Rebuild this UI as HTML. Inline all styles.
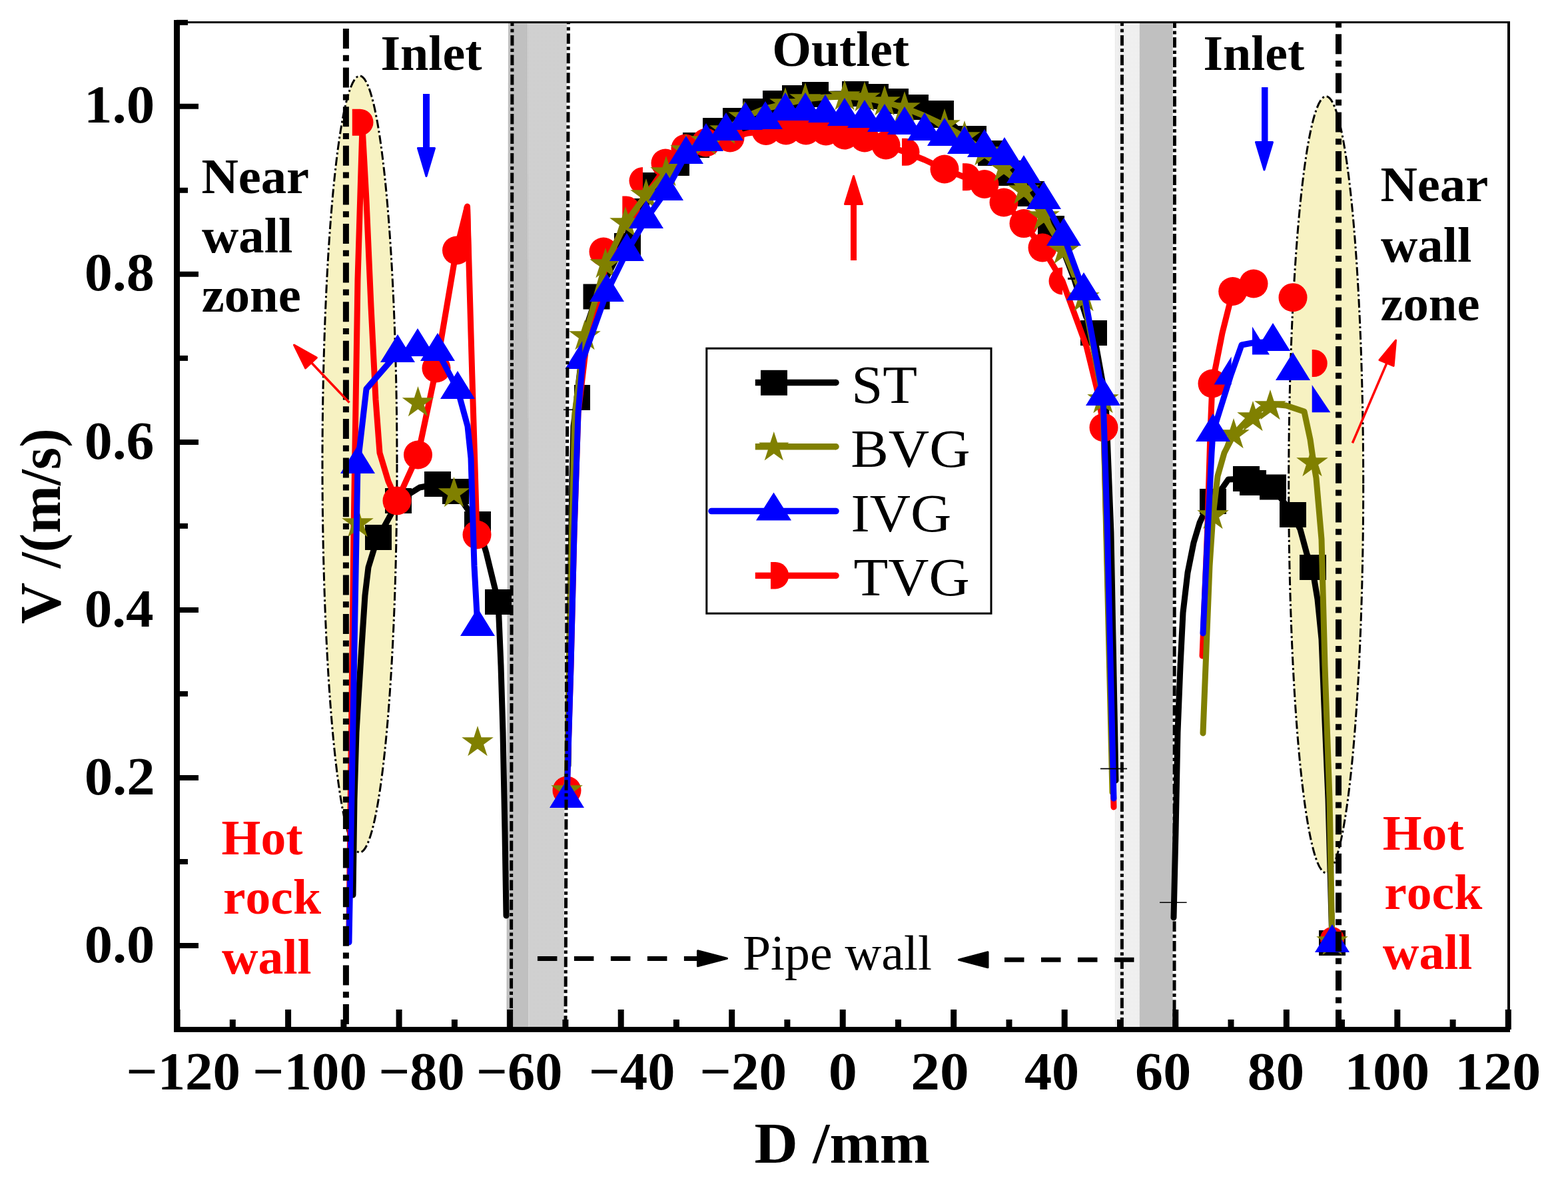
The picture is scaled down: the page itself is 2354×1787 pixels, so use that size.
<!DOCTYPE html><html><head><meta charset="utf-8"><title>V vs D</title>
<style>html,body{margin:0;padding:0;background:#fff;overflow:hidden}svg{display:block}text{font-family:"Liberation Serif","Times New Roman",serif;font-kerning:none}</style></head><body>
<svg width="2354" height="1787" viewBox="0 0 2354 1787">
<defs><clipPath id="pa"><rect x="265" y="35" width="2000" height="1508"/></clipPath><pattern id="stipA" width="2" height="2" patternUnits="userSpaceOnUse"><rect width="2" height="2" fill="#c0c0c0"/><rect width="1" height="1" fill="#fff"/></pattern><pattern id="stipB" width="2" height="2" patternUnits="userSpaceOnUse"><rect width="2" height="2" fill="#fff"/><rect width="1" height="1" fill="#c0c0c0"/></pattern></defs>
<rect width="2354" height="1787" fill="#fff"/>
<g clip-path="url(#pa)">
<ellipse cx="540" cy="697" rx="56" ry="583" fill="#f7f2c2" stroke="#000" stroke-width="3" stroke-dasharray="13 4 3 4"/>
<ellipse cx="1990.7" cy="727.7" rx="56" ry="583" fill="#f7f2c2" stroke="#000" stroke-width="3" stroke-dasharray="13 4 3 4"/>
<polygon points="763,35 792.6,35 793.4,1542 760.4,1542" fill="#c0c0c0"/>
<polygon points="792.6,35 851.2,35 846.3,1542 793.4,1542" fill="url(#stipA)"/>
<rect x="1673.9" y="35" width="37.1" height="1507" fill="url(#stipB)"/>
<rect x="1711" y="35" width="49.6" height="1507" fill="#c0c0c0"/>
</g>
<g clip-path="url(#pa)">
<polyline points="760,1375 758,1250 755,1100 752,1000 748,904 730,830 717,787 684,738 657,727 630,732 598,752 568,807 561,826 553,852 548,894 543,970 538,1050 535,1100 532,1200 530,1344" fill="none" stroke="#000000" stroke-width="9" stroke-linejoin="round" stroke-linecap="round"/>
<rect x="548" y="788" width="40" height="38" fill="#000000"/>
<rect x="578" y="733" width="40" height="38" fill="#000000"/>
<rect x="637" y="708" width="40" height="38" fill="#000000"/>
<rect x="664" y="719" width="40" height="38" fill="#000000"/>
<rect x="697" y="768" width="40" height="38" fill="#000000"/>
<rect x="728" y="885" width="40" height="38" fill="#000000"/>
<polyline points="895.5,445.5 935,369 955,317 985,278 1015,245 1045,218 1075,196 1105,181 1135,167 1165,155 1194,147 1224,142 1254,141 1284,141 1314,145 1344,152 1374,161 1404,173 1412,170 1452,208 1461,208 1488,230 1518,260 1548,291 1578,343 1598,381 1613,420 1630,474 1642,500" fill="none" stroke="#000000" stroke-width="9" stroke-linejoin="round" stroke-linecap="round"/>
<polyline points="866,597 877,505 884,480 895.5,445.5" fill="none" stroke="#000000" stroke-width="9" stroke-linejoin="round" stroke-linecap="round"/>
<polyline points="873.5,597 866,600 861,640 859,720 856,900 853,1150" fill="none" stroke="#000000" stroke-width="9" stroke-linejoin="round" stroke-linecap="round"/>
<polyline points="1642,500 1660,600 1668,800 1675,1172" fill="none" stroke="#000000" stroke-width="9" stroke-linejoin="round" stroke-linecap="round"/>
<rect x="875.5" y="426.5" width="40" height="38" fill="#000000"/>
<rect x="922" y="350" width="40" height="38" fill="#000000"/>
<rect x="935" y="298" width="40" height="38" fill="#000000"/>
<rect x="965" y="259" width="40" height="38" fill="#000000"/>
<rect x="995" y="226" width="40" height="38" fill="#000000"/>
<rect x="1025" y="199" width="40" height="38" fill="#000000"/>
<rect x="1055" y="177" width="40" height="38" fill="#000000"/>
<rect x="1085" y="162" width="40" height="38" fill="#000000"/>
<rect x="1115" y="148" width="40" height="38" fill="#000000"/>
<rect x="1145" y="136" width="40" height="38" fill="#000000"/>
<rect x="1174" y="128" width="40" height="38" fill="#000000"/>
<rect x="1204" y="123" width="40" height="38" fill="#000000"/>
<rect x="1264" y="122" width="40" height="38" fill="#000000"/>
<rect x="1294" y="126" width="40" height="38" fill="#000000"/>
<rect x="1324" y="133" width="40" height="38" fill="#000000"/>
<rect x="1354" y="142" width="40" height="38" fill="#000000"/>
<rect x="1384" y="154" width="40" height="38" fill="#000000"/>
<rect x="1392" y="151" width="40" height="38" fill="#000000"/>
<rect x="1432" y="189" width="40" height="38" fill="#000000"/>
<rect x="1441" y="189" width="40" height="38" fill="#000000"/>
<rect x="1468" y="211" width="40" height="38" fill="#000000"/>
<rect x="1498" y="241" width="40" height="38" fill="#000000"/>
<rect x="1528" y="272" width="40" height="38" fill="#000000"/>
<rect x="1558" y="324" width="40" height="38" fill="#000000"/>
<rect x="1622" y="481" width="40" height="38" fill="#000000"/>
<rect x="862" y="578" width="24" height="38" fill="#000000"/>
<polyline points="1762,1378 1765,1250 1768,1100 1772,1000 1776,920 1783,860 1792,815 1801,785 1808,770 1821,753 1844,720 1871,719 1881,725 1911,731.5 1941,773 1952,795 1962,832 1970,852 1978,900 1984,960 1988,1060 1994,1200 2000,1416" fill="none" stroke="#000000" stroke-width="9" stroke-linejoin="round" stroke-linecap="round"/>
<rect x="1801" y="734" width="40" height="38" fill="#000000"/>
<rect x="1851" y="700" width="40" height="38" fill="#000000"/>
<rect x="1861" y="706" width="40" height="38" fill="#000000"/>
<rect x="1891" y="712.5" width="40" height="38" fill="#000000"/>
<rect x="1921" y="754" width="40" height="38" fill="#000000"/>
<rect x="1951" y="833" width="40" height="38" fill="#000000"/>
<rect x="1980" y="1397" width="40" height="38" fill="#000000"/>
<polyline points="524,1390 531,800 537,420 544,190 550,300 557,460 564,600 570,680 583,723 596,752 627.5,683 655,553 685,376 701.5,310 704,396 708.7,560 713,700 716,803" fill="none" stroke="#ff0000" stroke-width="9" stroke-linejoin="round" stroke-linecap="round"/>
<polygon points="697,309 706,309 708,398 692,384 688,360" fill="#ff0000"/>
<path d="M528.8,163.7 H540.5 A20,20 0 0 1 540.5,203.7 H528.8 Z" fill="#ff0000"/>
<circle cx="596" cy="752" r="21.5" fill="#ff0000"/>
<circle cx="627.5" cy="683" r="21.5" fill="#ff0000"/>
<circle cx="655" cy="553" r="21.5" fill="#ff0000"/>
<circle cx="685.5" cy="376" r="21.5" fill="#ff0000"/>
<circle cx="716" cy="803" r="21.5" fill="#ff0000"/>
<polyline points="851,1187 857,1000 862,800 868,620 880,520 897,468 909,397 939,335 970,293 999,252 1029,223 1060,214 1096,207 1123,200 1150,196.5 1180,196 1210,196 1240,197 1268,203 1298,207 1330,218 1358,228 1388,240 1418,254 1448,266 1478,276.5 1507,304 1537,335.6 1565,372 1595,422 1631,520 1647,585 1657,642 1672,1212" fill="none" stroke="#ff0000" stroke-width="9" stroke-linejoin="round" stroke-linecap="round"/>
<circle cx="851" cy="1187" r="21.5" fill="#ff0000"/>
<circle cx="906" cy="378" r="21.5" fill="#ff0000"/>
<circle cx="999" cy="245" r="21.5" fill="#ff0000"/>
<circle cx="1029" cy="223" r="21.5" fill="#ff0000"/>
<circle cx="1060" cy="214" r="21.5" fill="#ff0000"/>
<circle cx="1096" cy="207" r="21.5" fill="#ff0000"/>
<circle cx="1150" cy="196.5" r="21.5" fill="#ff0000"/>
<circle cx="1180" cy="196" r="21.5" fill="#ff0000"/>
<circle cx="1210" cy="196" r="21.5" fill="#ff0000"/>
<circle cx="1240" cy="197" r="21.5" fill="#ff0000"/>
<circle cx="1268" cy="203" r="21.5" fill="#ff0000"/>
<circle cx="1298" cy="207" r="21.5" fill="#ff0000"/>
<circle cx="1330" cy="218" r="21.5" fill="#ff0000"/>
<circle cx="1418" cy="254" r="21.5" fill="#ff0000"/>
<circle cx="1478" cy="276.5" r="21.5" fill="#ff0000"/>
<circle cx="1507" cy="304" r="21.5" fill="#ff0000"/>
<circle cx="1537" cy="335.6" r="21.5" fill="#ff0000"/>
<circle cx="1565" cy="372" r="21.5" fill="#ff0000"/>
<circle cx="1657" cy="642" r="21.5" fill="#ff0000"/>
<path d="M934.3,294.5 H940.3 A20.5,20.5 0 0 1 940.3,335.5 H934.3 Z" fill="#ff0000"/>
<path d="M965,251 A20.5,20.5 0 0 0 965,292 Z" fill="#ff0000"/>
<path d="M1354,207.8 H1360 A20.5,20.5 0 0 1 1360,248.8 H1354 Z" fill="#ff0000"/>
<path d="M1445,245.3 H1451 A20.5,20.5 0 0 1 1451,286.3 H1445 Z" fill="#ff0000"/>
<path d="M1595,401.5 A20.5,20.5 0 0 0 1595,442.5 Z" fill="#ff0000"/>
<polyline points="1805,985 1812.5,800 1817,650 1820,576 1835,500 1850.7,437.5 1882,426" fill="none" stroke="#ff0000" stroke-width="9" stroke-linejoin="round" stroke-linecap="round"/>
<circle cx="1820" cy="576" r="21.5" fill="#ff0000"/>
<circle cx="1850.7" cy="437.5" r="21.5" fill="#ff0000"/>
<circle cx="1882" cy="426" r="21.5" fill="#ff0000"/>
<circle cx="1941" cy="446.7" r="21.5" fill="#ff0000"/>
<path d="M1969.7,525 H1972.2 A20.5,20.5 0 0 1 1972.2,566 H1969.7 Z" fill="#ff0000"/>
<circle cx="2000" cy="1410" r="18" fill="#ff0000"/>
<polygon points="537,761 542.6,778.3 560.8,778.3 546.1,789 551.7,806.2 537,795.5 522.3,806.2 527.9,789 513.2,778.3 531.4,778.3" fill="#808000"/>
<polygon points="627.5,580 633.1,597.3 651.3,597.3 636.6,608 642.2,625.2 627.5,614.5 612.8,625.2 618.4,608 603.7,597.3 621.9,597.3" fill="#808000"/>
<polygon points="681.5,716 687.1,733.3 705.3,733.3 690.6,744 696.2,761.2 681.5,750.5 666.8,761.2 672.4,744 657.7,733.3 675.9,733.3" fill="#808000"/>
<polygon points="717,1090 722.6,1107.3 740.8,1107.3 726.1,1118 731.7,1135.2 717,1124.5 702.3,1135.2 707.9,1118 693.2,1107.3 711.4,1107.3" fill="#808000"/>
<polyline points="851,1183 856,900 863,620 878,505 909,397 939,335 970,293 1000,259 1030,226 1060,212 1089,196 1117,176 1149,163 1179,156 1209,149 1238,146 1268,145 1298,147 1328,153 1358,162 1388,174 1418,188 1448,206 1478,228 1507,252 1537,286 1567,325 1597,376 1627,447 1656,600 1670,1190" fill="none" stroke="#808000" stroke-width="9" stroke-linejoin="round" stroke-linecap="round"/>
<polygon points="878,480 883.6,497.3 901.8,497.3 887.1,508 892.7,525.2 878,514.5 863.3,525.2 868.9,508 854.2,497.3 872.4,497.3" fill="#808000"/>
<polygon points="909,372 914.6,389.3 932.8,389.3 918.1,400 923.7,417.2 909,406.6 894.3,417.2 899.9,400 885.2,389.3 903.4,389.3" fill="#808000"/>
<polygon points="939,310 944.6,327.3 962.8,327.3 948.1,338 953.7,355.2 939,344.6 924.3,355.2 929.9,338 915.2,327.3 933.4,327.3" fill="#808000"/>
<polygon points="970,268 975.6,285.3 993.8,285.3 979.1,296 984.7,313.2 970,302.6 955.3,313.2 960.9,296 946.2,285.3 964.4,285.3" fill="#808000"/>
<polygon points="1000,234 1005.6,251.3 1023.8,251.3 1009.1,262 1014.7,279.2 1000,268.6 985.3,279.2 990.9,262 976.2,251.3 994.4,251.3" fill="#808000"/>
<polygon points="1030,201 1035.6,218.3 1053.8,218.3 1039.1,229 1044.7,246.2 1030,235.6 1015.3,246.2 1020.9,229 1006.2,218.3 1024.4,218.3" fill="#808000"/>
<polygon points="1060,187 1065.6,204.3 1083.8,204.3 1069.1,215 1074.7,232.2 1060,221.6 1045.3,232.2 1050.9,215 1036.2,204.3 1054.4,204.3" fill="#808000"/>
<polygon points="1089,171 1094.6,188.3 1112.8,188.3 1098.1,199 1103.7,216.2 1089,205.6 1074.3,216.2 1079.9,199 1065.2,188.3 1083.4,188.3" fill="#808000"/>
<polygon points="1117,151 1122.6,168.3 1140.8,168.3 1126.1,179 1131.7,196.2 1117,185.6 1102.3,196.2 1107.9,179 1093.2,168.3 1111.4,168.3" fill="#808000"/>
<polygon points="1179,131 1184.6,148.3 1202.8,148.3 1188.1,159 1193.7,176.2 1179,165.6 1164.3,176.2 1169.9,159 1155.2,148.3 1173.4,148.3" fill="#808000"/>
<polygon points="1209,124 1214.6,141.3 1232.8,141.3 1218.1,152 1223.7,169.2 1209,158.6 1194.3,169.2 1199.9,152 1185.2,141.3 1203.4,141.3" fill="#808000"/>
<polygon points="1268,120 1273.6,137.3 1291.8,137.3 1277.1,148 1282.7,165.2 1268,154.6 1253.3,165.2 1258.9,148 1244.2,137.3 1262.4,137.3" fill="#808000"/>
<polygon points="1298,122 1303.6,139.3 1321.8,139.3 1307.1,150 1312.7,167.2 1298,156.6 1283.3,167.2 1288.9,150 1274.2,139.3 1292.4,139.3" fill="#808000"/>
<polygon points="1328,128 1333.6,145.3 1351.8,145.3 1337.1,156 1342.7,173.2 1328,162.6 1313.3,173.2 1318.9,156 1304.2,145.3 1322.4,145.3" fill="#808000"/>
<polygon points="1358,137 1363.6,154.3 1381.8,154.3 1367.1,165 1372.7,182.2 1358,171.6 1343.3,182.2 1348.9,165 1334.2,154.3 1352.4,154.3" fill="#808000"/>
<polygon points="1418,163 1423.6,180.3 1441.8,180.3 1427.1,191 1432.7,208.2 1418,197.6 1403.3,208.2 1408.9,191 1394.2,180.3 1412.4,180.3" fill="#808000"/>
<polygon points="1448,181 1453.6,198.3 1471.8,198.3 1457.1,209 1462.7,226.2 1448,215.6 1433.3,226.2 1438.9,209 1424.2,198.3 1442.4,198.3" fill="#808000"/>
<polygon points="1478,203 1483.6,220.3 1501.8,220.3 1487.1,231 1492.7,248.2 1478,237.6 1463.3,248.2 1468.9,231 1454.2,220.3 1472.4,220.3" fill="#808000"/>
<polygon points="1507,227 1512.6,244.3 1530.8,244.3 1516.1,255 1521.7,272.2 1507,261.6 1492.3,272.2 1497.9,255 1483.2,244.3 1501.4,244.3" fill="#808000"/>
<polygon points="1537,261 1542.6,278.3 1560.8,278.3 1546.1,289 1551.7,306.2 1537,295.6 1522.3,306.2 1527.9,289 1513.2,278.3 1531.4,278.3" fill="#808000"/>
<polygon points="1567,300 1572.6,317.3 1590.8,317.3 1576.1,328 1581.7,345.2 1567,334.6 1552.3,345.2 1557.9,328 1543.2,317.3 1561.4,317.3" fill="#808000"/>
<polygon points="1597,351 1602.6,368.3 1620.8,368.3 1606.1,379 1611.7,396.2 1597,385.6 1582.3,396.2 1587.9,379 1573.2,368.3 1591.4,368.3" fill="#808000"/>
<polygon points="1627,422 1632.6,439.3 1650.8,439.3 1636.1,450 1641.7,467.2 1627,456.6 1612.3,467.2 1617.9,450 1603.2,439.3 1621.4,439.3" fill="#808000"/>
<polygon points="1656,575 1661.6,592.3 1679.8,592.3 1665.1,603 1670.7,620.2 1656,609.5 1641.3,620.2 1646.9,603 1632.2,592.3 1650.4,592.3" fill="#808000"/>
<polygon points="851,1162 856.6,1179.3 874.8,1179.3 860.1,1190 865.7,1207.2 851,1196.5 836.3,1207.2 841.9,1190 827.2,1179.3 845.4,1179.3" fill="#808000"/>
<polyline points="1806,1101 1812,950 1816,850 1821,774 1828,715 1838,680 1852,653 1875,628 1893,614 1912,607 1931,609 1958,618 1967,660 1972,695 1976,718 1984,810 1989,1000 1996,1200 2000,1416" fill="none" stroke="#808000" stroke-width="9" stroke-linejoin="round" stroke-linecap="round"/>
<polygon points="1821,749 1826.6,766.3 1844.8,766.3 1830.1,777 1835.7,794.2 1821,783.5 1806.3,794.2 1811.9,777 1797.2,766.3 1815.4,766.3" fill="#808000"/>
<polygon points="1852,628 1857.6,645.3 1875.8,645.3 1861.1,656 1866.7,673.2 1852,662.5 1837.3,673.2 1842.9,656 1828.2,645.3 1846.4,645.3" fill="#808000"/>
<polygon points="1881,602 1886.6,619.3 1904.8,619.3 1890.1,630 1895.7,647.2 1881,636.5 1866.3,647.2 1871.9,630 1857.2,619.3 1875.4,619.3" fill="#808000"/>
<polygon points="1907,585 1912.6,602.3 1930.8,602.3 1916.1,613 1921.7,630.2 1907,619.5 1892.3,630.2 1897.9,613 1883.2,602.3 1901.4,602.3" fill="#808000"/>
<polygon points="1970,670 1975.6,687.3 1993.8,687.3 1979.1,698 1984.7,715.2 1970,704.5 1955.3,715.2 1960.9,698 1946.2,687.3 1964.4,687.3" fill="#808000"/>
<polygon points="2000,1389 2005.6,1406.3 2023.8,1406.3 2009.1,1417 2014.7,1434.2 2000,1423.5 1985.3,1434.2 1990.9,1417 1976.2,1406.3 1994.4,1406.3" fill="#808000"/>
<polyline points="524,1415 537,697 550,584 597,530 627,521 657,528 687,585 702,640 707,688 712,850 717,941" fill="none" stroke="#0000ff" stroke-width="9" stroke-linejoin="round" stroke-linecap="round"/>
<polygon points="537,669 511,711 563,711" fill="#0000ff"/>
<polygon points="597,502 571,544 623,544" fill="#0000ff"/>
<polygon points="627,493 601,535 653,535" fill="#0000ff"/>
<polygon points="657,500 631,542 683,542" fill="#0000ff"/>
<polygon points="687,557 661,599 713,599" fill="#0000ff"/>
<polygon points="717,913 691,955 743,955" fill="#0000ff"/>
<polyline points="851,1199 857,1000 862,800 868,620 875,540 911,439 941,378 970,329 1000,287 1030,232 1060,213 1090,197 1119,181 1149,180 1179,167 1209,167 1239,170 1268,175 1298,178 1328,184 1358,188 1388,197 1418,205 1448,217 1478,222 1508,234 1537,261 1567,300 1597,355 1627,437 1656,595 1662,780 1672,1199" fill="none" stroke="#0000ff" stroke-width="9" stroke-linejoin="round" stroke-linecap="round"/>
<polygon points="911,411 885,453 937,453" fill="#0000ff"/>
<polygon points="941,350 915,392 967,392" fill="#0000ff"/>
<polygon points="970,301 944,343 996,343" fill="#0000ff"/>
<polygon points="1000,259 974,301 1026,301" fill="#0000ff"/>
<polygon points="1030,204 1004,246 1056,246" fill="#0000ff"/>
<polygon points="1060,185 1034,227 1086,227" fill="#0000ff"/>
<polygon points="1090,169 1064,211 1116,211" fill="#0000ff"/>
<polygon points="1119,153 1093,195 1145,195" fill="#0000ff"/>
<polygon points="1149,152 1123,194 1175,194" fill="#0000ff"/>
<polygon points="1179,139 1153,181 1205,181" fill="#0000ff"/>
<polygon points="1209,139 1183,181 1235,181" fill="#0000ff"/>
<polygon points="1239,142 1213,184 1265,184" fill="#0000ff"/>
<polygon points="1268,147 1242,189 1294,189" fill="#0000ff"/>
<polygon points="1298,150 1272,192 1324,192" fill="#0000ff"/>
<polygon points="1328,156 1302,198 1354,198" fill="#0000ff"/>
<polygon points="1358,160 1332,202 1384,202" fill="#0000ff"/>
<polygon points="1388,169 1362,211 1414,211" fill="#0000ff"/>
<polygon points="1418,177 1392,219 1444,219" fill="#0000ff"/>
<polygon points="1448,189 1422,231 1474,231" fill="#0000ff"/>
<polygon points="1478,194 1452,236 1504,236" fill="#0000ff"/>
<polygon points="1508,206 1482,248 1534,248" fill="#0000ff"/>
<polygon points="1537,233 1511,275 1563,275" fill="#0000ff"/>
<polygon points="1567,272 1541,314 1593,314" fill="#0000ff"/>
<polygon points="1597,327 1571,369 1623,369" fill="#0000ff"/>
<polygon points="1627,409 1601,451 1653,451" fill="#0000ff"/>
<polygon points="1656,567 1630,609 1682,609" fill="#0000ff"/>
<polygon points="874.3,512 874.3,554 848.3,554" fill="#0000ff"/>
<polygon points="851,1171 825,1213 877,1213" fill="#0000ff"/>
<polyline points="1806,951 1813,800 1819,680 1821,649 1848,563 1864,518 1880,515 1911,513" fill="none" stroke="#0000ff" stroke-width="9" stroke-linejoin="round" stroke-linecap="round"/>
<polygon points="1821,621 1795,663 1847,663" fill="#0000ff"/>
<polygon points="1911,485 1885,527 1937,527" fill="#0000ff"/>
<polygon points="1941,529 1915,571 1967,571" fill="#0000ff"/>
<polygon points="1848.6,535.4 1848.6,577.4 1822.6,577.4" fill="#0000ff"/>
<polygon points="1880,490.6 1880,532.6 1906,532.6" fill="#0000ff"/>
<polygon points="1969.7,578 1969.7,619.2 1997.3,619.2" fill="#0000ff"/>
<polygon points="2000,1388 1974,1430 2026,1430" fill="#0000ff"/>
</g>
<line x1="1652" y1="1154.4" x2="1692" y2="1154.4" stroke="#000" stroke-width="1.6"/>
<line x1="1741" y1="1355.2" x2="1781.6" y2="1355.2" stroke="#000" stroke-width="1.6"/>
<line x1="846" y1="615.3" x2="860" y2="615.3" stroke="#000" stroke-width="1.6"/>
<line x1="1603" y1="418.4" x2="1614" y2="418.4" stroke="#000" stroke-width="3"/>
<g clip-path="url(#pa)">
<line x1="769" y1="-6" x2="767.5" y2="1546" stroke="#000" stroke-width="5" stroke-dasharray="15.5 4.5 5 4.5" stroke-dashoffset="0"/>
<line x1="853.5" y1="-8.8" x2="849" y2="1546" stroke="#000" stroke-width="5" stroke-dasharray="15.5 4.5 5 4.5" stroke-dashoffset="0"/>
<line x1="1684.5" y1="-5.9" x2="1684.4" y2="1546" stroke="#000" stroke-width="5" stroke-dasharray="15.5 4.5 5 4.5" stroke-dashoffset="0"/>
<line x1="1763.5" y1="-3" x2="1763" y2="1546" stroke="#000" stroke-width="5" stroke-dasharray="15.5 4.5 5 4.5" stroke-dashoffset="0"/>
<line x1="519.4" y1="-15.6" x2="519.4" y2="1546" stroke="#000" stroke-width="9" stroke-dasharray="30 9.8 9 9.8" stroke-dashoffset="0"/>
<line x1="2009.5" y1="-7.4" x2="2009.5" y2="1546" stroke="#000" stroke-width="9" stroke-dasharray="30 9.8 9 9.8" stroke-dashoffset="0"/>
</g>
<rect x="265" y="33.5" width="2000" height="1" fill="none"/>
<line x1="261" y1="33.4" x2="2267" y2="33.4" stroke="#000" stroke-width="3"/>
<line x1="2265" y1="32" x2="2265" y2="1550" stroke="#000" stroke-width="4"/>
<line x1="265.5" y1="30" x2="265.5" y2="1550" stroke="#000" stroke-width="9"/>
<line x1="261" y1="1546" x2="2267" y2="1546" stroke="#000" stroke-width="8"/>
<line x1="266.1" y1="1516" x2="266.1" y2="1546" stroke="#000" stroke-width="9"/>
<line x1="349.3" y1="1531" x2="349.3" y2="1546" stroke="#000" stroke-width="9"/>
<line x1="432.6" y1="1516" x2="432.6" y2="1546" stroke="#000" stroke-width="9"/>
<line x1="515.9" y1="1531" x2="515.9" y2="1546" stroke="#000" stroke-width="9"/>
<line x1="599.1" y1="1516" x2="599.1" y2="1546" stroke="#000" stroke-width="9"/>
<line x1="682.4" y1="1531" x2="682.4" y2="1546" stroke="#000" stroke-width="9"/>
<line x1="765.6" y1="1516" x2="765.6" y2="1546" stroke="#000" stroke-width="9"/>
<line x1="848.9" y1="1531" x2="848.9" y2="1546" stroke="#000" stroke-width="9"/>
<line x1="932.2" y1="1516" x2="932.2" y2="1546" stroke="#000" stroke-width="9"/>
<line x1="1015.4" y1="1531" x2="1015.4" y2="1546" stroke="#000" stroke-width="9"/>
<line x1="1098.7" y1="1516" x2="1098.7" y2="1546" stroke="#000" stroke-width="9"/>
<line x1="1181.9" y1="1531" x2="1181.9" y2="1546" stroke="#000" stroke-width="9"/>
<line x1="1265.2" y1="1516" x2="1265.2" y2="1546" stroke="#000" stroke-width="9"/>
<line x1="1348.5" y1="1531" x2="1348.5" y2="1546" stroke="#000" stroke-width="9"/>
<line x1="1431.7" y1="1516" x2="1431.7" y2="1546" stroke="#000" stroke-width="9"/>
<line x1="1515" y1="1531" x2="1515" y2="1546" stroke="#000" stroke-width="9"/>
<line x1="1598.2" y1="1516" x2="1598.2" y2="1546" stroke="#000" stroke-width="9"/>
<line x1="1681.5" y1="1531" x2="1681.5" y2="1546" stroke="#000" stroke-width="9"/>
<line x1="1764.8" y1="1516" x2="1764.8" y2="1546" stroke="#000" stroke-width="9"/>
<line x1="1848" y1="1531" x2="1848" y2="1546" stroke="#000" stroke-width="9"/>
<line x1="1931.3" y1="1516" x2="1931.3" y2="1546" stroke="#000" stroke-width="9"/>
<line x1="2014.5" y1="1531" x2="2014.5" y2="1546" stroke="#000" stroke-width="9"/>
<line x1="2097.8" y1="1516" x2="2097.8" y2="1546" stroke="#000" stroke-width="9"/>
<line x1="2181.1" y1="1531" x2="2181.1" y2="1546" stroke="#000" stroke-width="9"/>
<line x1="2264.3" y1="1516" x2="2264.3" y2="1546" stroke="#000" stroke-width="9"/>
<line x1="265" y1="1546" x2="282" y2="1546" stroke="#000" stroke-width="8"/>
<line x1="265" y1="1420" x2="298" y2="1420" stroke="#000" stroke-width="8"/>
<line x1="265" y1="1294" x2="282" y2="1294" stroke="#000" stroke-width="8"/>
<line x1="265" y1="1168" x2="298" y2="1168" stroke="#000" stroke-width="8"/>
<line x1="265" y1="1041.9" x2="282" y2="1041.9" stroke="#000" stroke-width="8"/>
<line x1="265" y1="915.9" x2="298" y2="915.9" stroke="#000" stroke-width="8"/>
<line x1="265" y1="789.9" x2="282" y2="789.9" stroke="#000" stroke-width="8"/>
<line x1="265" y1="663.9" x2="298" y2="663.9" stroke="#000" stroke-width="8"/>
<line x1="265" y1="537.9" x2="282" y2="537.9" stroke="#000" stroke-width="8"/>
<line x1="265" y1="411.8" x2="298" y2="411.8" stroke="#000" stroke-width="8"/>
<line x1="265" y1="285.8" x2="282" y2="285.8" stroke="#000" stroke-width="8"/>
<line x1="265" y1="159.8" x2="298" y2="159.8" stroke="#000" stroke-width="8"/>
<line x1="265" y1="33.8" x2="282" y2="33.8" stroke="#000" stroke-width="8"/>
<text transform="translate(126,184) scale(1.0635,1)" font-size="80" font-weight="bold" fill="#000000">1.0</text>
<text transform="translate(126.7,436.2) scale(1.0520,1)" font-size="80" font-weight="bold" fill="#000000">0.8</text>
<text transform="translate(126.7,688.5) scale(1.0485,1)" font-size="80" font-weight="bold" fill="#000000">0.6</text>
<text transform="translate(126.7,940.7) scale(1.0391,1)" font-size="80" font-weight="bold" fill="#000000">0.4</text>
<text transform="translate(126.7,1193) scale(1.0608,1)" font-size="80" font-weight="bold" fill="#000000">0.2</text>
<text transform="translate(126.7,1445.2) scale(1.0564,1)" font-size="80" font-weight="bold" fill="#000000">0.0</text>
<text transform="translate(189.4,1636) scale(1.0365,1)" font-size="80" font-weight="bold" fill="#000000">−120</text>
<text transform="translate(379.3,1636) scale(1.0365,1)" font-size="80" font-weight="bold" fill="#000000">−100</text>
<text transform="translate(568.4,1636) scale(1.0294,1)" font-size="80" font-weight="bold" fill="#000000">−80</text>
<text transform="translate(715.1,1636) scale(1.0294,1)" font-size="80" font-weight="bold" fill="#000000">−60</text>
<text transform="translate(884.1,1636) scale(1.0303,1)" font-size="80" font-weight="bold" fill="#000000">−40</text>
<text transform="translate(1050.6,1636) scale(1.0396,1)" font-size="80" font-weight="bold" fill="#000000">−20</text>
<text transform="translate(1243.7,1636) scale(1.0765,1)" font-size="80" font-weight="bold" fill="#000000">0</text>
<text transform="translate(1367.3,1636) scale(1.0938,1)" font-size="80" font-weight="bold" fill="#000000">20</text>
<text transform="translate(1537.9,1636) scale(1.0282,1)" font-size="80" font-weight="bold" fill="#000000">40</text>
<text transform="translate(1704.1,1636) scale(1.0509,1)" font-size="80" font-weight="bold" fill="#000000">60</text>
<text transform="translate(1872.8,1636) scale(1.0687,1)" font-size="80" font-weight="bold" fill="#000000">80</text>
<text transform="translate(2018.2,1636) scale(1.0674,1)" font-size="80" font-weight="bold" fill="#000000">100</text>
<text transform="translate(2184.1,1636) scale(1.0765,1)" font-size="80" font-weight="bold" fill="#000000">120</text>
<text transform="translate(1132.4,1745.7) scale(1.0444,1)" font-size="86.6" font-weight="bold" fill="#000000">D /mm</text>
<text transform="translate(90,936.9) rotate(-90)" font-size="86" font-weight="bold">V /(m/s)</text>
<text transform="translate(571.4,104.7) scale(1.0418,1)" font-size="73" font-weight="bold" fill="#000000">Inlet</text>
<text transform="translate(1806.4,105) scale(1.0404,1)" font-size="73" font-weight="bold" fill="#000000">Inlet</text>
<text transform="translate(1159.2,98.8) scale(1.0359,1)" font-size="73" font-weight="bold" fill="#000000">Outlet</text>
<text transform="translate(302.4,290.1) scale(1.0360,1)" font-size="74" font-weight="bold" fill="#000000">Near</text>
<text transform="translate(303,379.4) scale(1.0360,1)" font-size="74" font-weight="bold" fill="#000000">wall</text>
<text transform="translate(302.7,468.4) scale(1.0360,1)" font-size="74" font-weight="bold" fill="#000000">zone</text>
<text transform="translate(2072.5,302.2) scale(1.0360,1)" font-size="74" font-weight="bold" fill="#000000">Near</text>
<text transform="translate(2073,392.5) scale(1.0360,1)" font-size="74" font-weight="bold" fill="#000000">wall</text>
<text transform="translate(2072.5,480.7) scale(1.0360,1)" font-size="74" font-weight="bold" fill="#000000">zone</text>
<text transform="translate(332.6,1282.7) scale(1.0360,1)" font-size="73" font-weight="bold" fill="#ff0000">Hot</text>
<text transform="translate(335,1371.5) scale(1.0360,1)" font-size="73" font-weight="bold" fill="#ff0000">rock</text>
<text transform="translate(333,1462) scale(1.0360,1)" font-size="73" font-weight="bold" fill="#ff0000">wall</text>
<text transform="translate(2075.8,1275.8) scale(1.0360,1)" font-size="73" font-weight="bold" fill="#ff0000">Hot</text>
<text transform="translate(2078.2,1364.5) scale(1.0360,1)" font-size="73" font-weight="bold" fill="#ff0000">rock</text>
<text transform="translate(2075.8,1455.4) scale(1.0360,1)" font-size="73" font-weight="bold" fill="#ff0000">wall</text>
<text transform="translate(1114.9,1455.8) scale(1.0387,1)" font-size="73" font-weight="normal" fill="#000000">Pipe wall</text>
<rect x="635" y="141" width="10" height="82" fill="#0000ff"/>
<polygon points="640,264.5 627.5,222.5 652.5,222.5" fill="#0000ff" stroke="#0000ff" stroke-width="3" stroke-linejoin="round"/>
<rect x="1894" y="131" width="9.5" height="83" fill="#0000ff"/>
<polygon points="1898,255 1885.5,213.5 1910.5,213.5" fill="#0000ff" stroke="#0000ff" stroke-width="3" stroke-linejoin="round"/>
<rect x="1277" y="306" width="9" height="85" fill="#ff0000"/>
<polygon points="1281.5,264.5 1294.5,306.5 1268.5,306.5" fill="#ff0000" stroke="#ff0000" stroke-width="3" stroke-linejoin="round"/>
<line x1="524.5" y1="604.6" x2="465" y2="542" stroke="#ff0000" stroke-width="3.5"/>
<polygon points="441.5,518 475.4,537.1 458.6,552.9" fill="#ff0000" stroke="#ff0000" stroke-width="3" stroke-linejoin="round"/>
<line x1="2030.4" y1="665.3" x2="2082" y2="545" stroke="#ff0000" stroke-width="3.5"/>
<polygon points="2095.5,511 2092.1,549.4 2070.9,540.6" fill="#ff0000" stroke="#ff0000" stroke-width="3" stroke-linejoin="round"/>
<line x1="806.9" y1="1439.5" x2="1050" y2="1439.5" stroke="#000" stroke-width="7" stroke-dasharray="29.5 25.5"/>
<polygon points="1091.5,1439.3 1047.5,1450.8 1047.5,1427.8" fill="#000000" stroke="#000000" stroke-width="3" stroke-linejoin="round"/>
<line x1="1508" y1="1441.2" x2="1703" y2="1441.2" stroke="#000" stroke-width="7" stroke-dasharray="29.5 25.5"/>
<polygon points="1439.5,1441.3 1483,1429.8 1483,1452.8" fill="#000000" stroke="#000000" stroke-width="3" stroke-linejoin="round"/>
<rect x="1060.8" y="523.2" width="427.2" height="398" fill="#fff" stroke="#000" stroke-width="3"/>
<rect x="1133.8" y="569.75" width="121.2" height="9.5" fill="#000"/><circle cx="1255" cy="574.5" r="4.75" fill="#000"/>
<rect x="1142" y="555.8" width="40" height="38" fill="#000000"/>
<rect x="1133.8" y="666" width="121.2" height="9.5" fill="#808000"/><circle cx="1255" cy="670.75" r="4.75" fill="#808000"/>
<polygon points="1161.8,648 1167.2,664.6 1184.6,664.6 1170.5,674.8 1175.9,691.4 1161.8,681.2 1147.7,691.4 1153.1,674.8 1139,664.6 1156.4,664.6" fill="#808000"/>
<polyline points="1068,767.6 1255,767.6" fill="none" stroke="#0000ff" stroke-width="9.5" stroke-linejoin="round" stroke-linecap="round"/>
<polygon points="1161.5,739.5 1135,781.5 1188,781.5" fill="#0000ff"/>
<rect x="1133.8" y="859.65" width="121.2" height="9.5" fill="#ff0000"/><circle cx="1255" cy="864.4" r="4.75" fill="#ff0000"/>
<path d="M1157,844 H1164 A20.2,20.2 0 0 1 1164,884.4 H1157 Z" fill="#ff0000"/>
<text transform="translate(1278.2,604.5) scale(1.0600,1)" font-size="80" font-weight="normal" fill="#000000">ST</text>
<text transform="translate(1277.2,701.3) scale(1.0621,1)" font-size="80" font-weight="normal" fill="#000000">BVG</text>
<text transform="translate(1277.5,797.6) scale(1.0600,1)" font-size="80" font-weight="normal" fill="#000000">IVG</text>
<text transform="translate(1281.5,894.1) scale(1.0600,1)" font-size="80" font-weight="normal" fill="#000000">TVG</text>
</svg></body></html>
